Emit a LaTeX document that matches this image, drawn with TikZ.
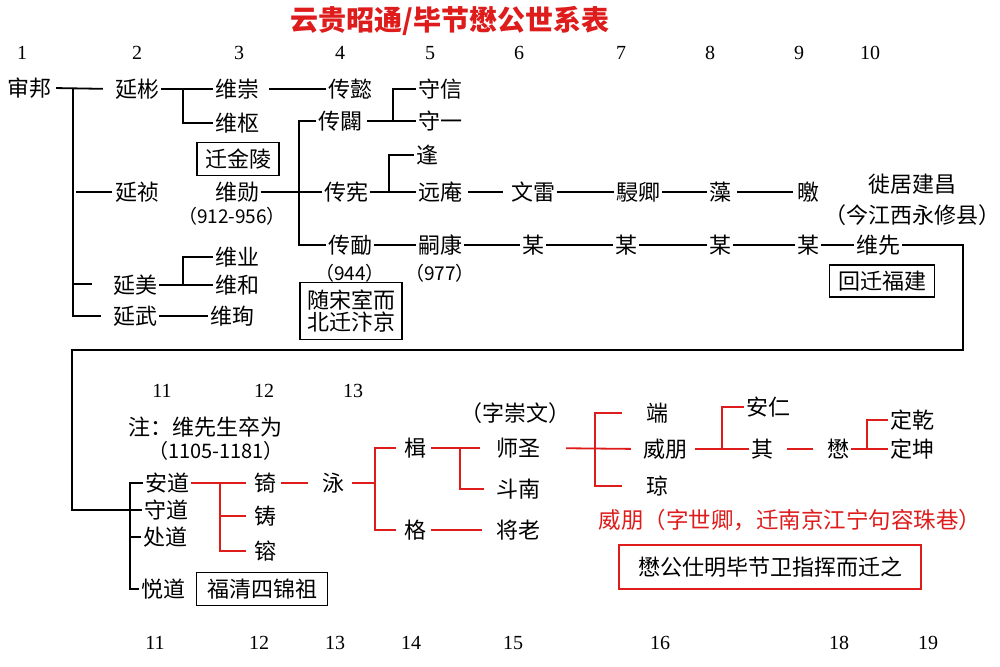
\documentclass[tikz,border=0pt]{standalone}
\usepackage{fontspec}
\newfontfamily\cjk{Noto Sans CJK SC}
\newfontfamily\numf{Liberation Serif}
\definecolor{redl}{RGB}{222,28,28}
\begin{document}
\begin{tikzpicture}[x=1pt,y=-1pt,
  nm/.style={font=\cjk\fontsize{22}{24}\selectfont, inner sep=2pt},
  yr/.style={font=\cjk\fontsize{19}{21}\selectfont, inner sep=1pt},
  num/.style={font=\numf\fontsize{20}{22}\selectfont, inner sep=0pt},
  boxb/.style={draw, line width=1.6pt, font=\cjk\fontsize{22}{25}\selectfont, inner sep=3pt, align=center},
  ln/.style={line width=1.8pt},
  rl/.style={line width=1.8pt, draw=redl}]
\fill[white] (0,0) rectangle (1000,666);
\useasboundingbox (0,0) rectangle (1000,666);

% title
\node[font=\cjk\bfseries\fontsize{28}{30}\selectfont, text=redl, inner sep=0pt] (title) at (450,21) {云贵昭通/毕节懋公世系表};

% generation numbers (top)
\foreach \n/\x in {1/22,2/137,3/239,4/340,5/430,6/519,7/621,8/710,9/799,10/870}
  \node[num] (gt\n) at (\x,53) {\n};

% ---------- top section ----------
\node[nm] (shenbang) at (29,88) {审邦};
\node[nm] (yanbin) at (137,89) {延彬};
\node[nm] (weichong) at (237,89) {维崇};
\node[nm] (weishu) at (237,123) {维枢};
\node[boxb, minimum width=82pt, minimum height=33pt] (jinling) at (238,159) {迁金陵};
\node[nm] (chuanyi) at (350,89) {传懿};
\node[nm] (chuanpi) at (340,121) {传闢};
\node[nm] (shouxin) at (440,89) {守信};
\node[nm] (shouyi) at (440,121) {守一};
\node[nm] (feng) at (427,155) {逢};
\node[nm] (yanzhen) at (137,192) {延祯};
\node[nm] (weixun) at (237,192) {维勋};
\node[yr] (yweixun) at (232,216) {（912-956）};
\node[nm] (chuanxian) at (346,192) {传宪};
\node[nm] (yuanan) at (440,192) {远庵};
\node[nm] (wenlei) at (533,192) {文雷};
\node[nm] (qinqing) at (638,192) {駸卿};
\node[nm] (zao) at (720,192) {藻};
\node[nm] (jiao) at (808,192) {曒};
\node[nm] (xiju) at (912,184) {徙居建昌};
\node[nm] (jinjx) at (912,215) {（今江西永修县）};
\node[nm] (chuanmian) at (350,245) {传勔};
\node[yr] (y944) at (350,273) {（944）};
\node[boxb, minimum width=102pt, minimum height=57pt] (suisong) at (351,311) {随宋室而\\[-3pt]北迁汴京};
\node[nm] (sikang) at (440,245) {嗣康};
\node[yr] (y977) at (440,273) {（977）};
\node[nm] (mou1) at (533,245) {某};
\node[nm] (mou2) at (626,245) {某};
\node[nm] (mou3) at (720,245) {某};
\node[nm] (mou4) at (808,245) {某};
\node[nm] (weixian) at (878,245) {维先};
\node[boxb, minimum width=105pt, minimum height=32pt] (huiqian) at (882,281) {回迁福建};
\node[nm] (yanmei) at (135,285) {延美};
\node[nm] (weiye) at (237,257) {维业};
\node[nm] (weihe) at (237,285) {维和};
\node[nm] (yanwu) at (135,316) {延武};
\node[nm] (weixun2) at (232,316) {维珣};

% junction coordinates
\coordinate (tr) at (73,0);
\coordinate (b1) at (183,0);
\coordinate (b2) at (299,0);
\coordinate (b3) at (393,0);
\coordinate (b4) at (389,0);
\coordinate (b5) at (183,0);
\coordinate (stub) at (92,284);
\coordinate (turnA) at (963,245);
\coordinate (turnB) at (963,350);
\coordinate (turnC) at (72,350);

% top connectors
\draw[ln, shorten <=3pt, shorten >=10pt] (shenbang.east) -- (yanbin.west);
\draw[ln, shorten >=10pt] (tr |- shenbang) |- (yanwu.west);
\draw[ln, shorten <=3pt, shorten >=1pt] (tr |- yanzhen) -- (yanzhen.west);
\draw[ln] (tr |- stub) -- (stub);
\draw[ln] (yanbin.east) -- (weichong.west);
\draw[ln] (b1 |- weichong) -- (b1 |- weishu) -- (weishu.west);
\draw[ln, shorten <=8pt] (weichong.east) -- (chuanyi.west);
\draw[ln] (chuanpi.west) -- (b2 |- chuanpi) -- (b2 |- chuanmian) -- (chuanmian.west);
\draw[ln] (weixun.east) -- (chuanxian.west);
\draw[ln, shorten <=3pt] (chuanpi.east) -- (shouyi.west);
\draw[ln] (shouxin.west) -- (b3 |- shouxin) -- (b3 |- shouyi);
\draw[ln] (chuanxian.east) -- (yuanan.west);
\draw[ln] (feng.west) -- (b4 |- feng) -- (b4 |- yuanan);
\draw[ln, shorten <=4pt, shorten >=6pt] (yuanan.east) -- (wenlei.west);
\draw[ln] (wenlei.east) -- (qinqing.west);
\draw[ln] (qinqing.east) -- (zao.west);
\draw[ln, shorten <=4pt, shorten >=2pt] (zao.east) -- (jiao.west);
\draw[ln] (chuanmian.east) -- (sikang.west);
\draw[ln] (sikang.east) -- (mou1.west);
\draw[ln] (mou1.east) -- (mou2.west);
\draw[ln] (mou2.east) -- (mou3.west);
\draw[ln] (mou3.east) -- (mou4.west);
\draw[ln] (mou4.east) -- (weixian.west);
\draw[ln] (yanmei.east) -- (weihe.west);
\draw[ln] (weiye.west) -- (b5 |- weiye) -- (b5 |- weihe);
\draw[ln] (yanwu.east) -- (weixun2.west);

% ---------- bottom section ----------
\foreach \n/\x in {11/162,12/264,13/353}
  \node[num] (gm\n) at (\x,391) {\n};
\node[nm] (zhu) at (205,427) {注：维先生卒为};
\node[yr, font=\cjk\fontsize{20}{22}\selectfont] (y1105) at (216,451) {（1105-1181）};
\node[nm] (andao) at (167,483) {安道};
\node[nm] (shoudao) at (166,510) {守道};
\node[nm] (chudao) at (165,537) {处道};
\node[nm] (yuedao) at (163,589) {悦道};
\node[boxb, minimum width=131pt, minimum height=33pt] (fuqing) at (262,589) {福清四锦祖};
\node[nm] (qi1) at (265,483) {锜};
\node[nm] (zhu2) at (265,516) {铸};
\node[nm] (rong) at (265,551) {镕};
\node[nm] (yong) at (333,483) {泳};
\node[nm] (ji) at (415,448) {楫};
\node[nm] (ge) at (415,530) {格};
\node[nm] (zichong) at (515,413) {（字崇文）};
\node[nm] (shisheng) at (518,448) {师圣};
\node[nm] (dounan) at (518,489) {斗南};
\node[nm] (jianglao) at (518,530) {将老};
\node[nm] (duan) at (657,413) {端};
\node[nm] (weipeng) at (665,449) {威朋};
\node[nm] (qiong) at (657,486) {琼};
\node[nm] (anren) at (768,407) {安仁};
\node[nm] (qi) at (762,449) {其};
\node[nm] (mao) at (838,449) {懋};
\node[nm] (dingqian) at (912,420) {定乾};
\node[nm] (dingkun) at (912,449) {定坤};
\node[nm, text=redl, font=\cjk\fontsize{22.5}{24}\selectfont] (wpnote) at (790,520) {威朋（字世卿，迁南京江宁句容珠巷）};
\node[draw=redl, line width=1.6pt, font=\cjk\fontsize{22}{24}\selectfont, minimum width=302pt, minimum height=44pt, inner sep=2pt] (maogong) at (770,567) {懋公仕明毕节卫指挥而迁之};

\foreach \n/\x in {11/155,12/259,13/335,14/411,15/513,16/660,18/839,19/928}
  \node[num] (gb\n) at (\x,643) {\n};

% bottom black connectors
\coordinate (br) at (130,0);
\draw[ln] (weixian.east) -- (turnA) -- (turnB) -- (turnC) |- (shoudao.west);
\draw[ln] (andao.west) -- (br |- andao) -- (br |- yuedao) -- (yuedao.west);
\draw[ln] (br |- chudao) -- (chudao.west);

% red connectors
\coordinate (r1) at (220,0);
\coordinate (r2) at (375,0);
\coordinate (r3) at (460,0);
\coordinate (r4) at (595,0);
\coordinate (r5) at (722,0);
\coordinate (r6) at (867,0);
\draw[rl, shorten >=6pt] (andao.east) -- (qi1.west);
\draw[rl] (r1 |- qi1) -- (r1 |- rong) -- ([xshift=-6pt]rong.west);
\draw[rl, shorten >=6pt] (r1 |- zhu2) -- (zhu2.west);
\draw[rl, shorten <=3pt, shorten >=12pt] (qi1.east) -- (yong.west);
\draw[rl, shorten <=6pt] (yong.east) -- (r2 |- yong);
\draw[rl] ([xshift=-6pt]ji.west) -- (r2 |- ji) -- (r2 |- ge) -- ([xshift=-6pt]ge.west);
\draw[rl, shorten <=3pt, shorten >=14pt] (ji.east) -- (shisheng.west);
\draw[rl] (r3 |- ji) -- (r3 |- dounan) -- ([xshift=-10pt]dounan.west);
\draw[rl, shorten <=3pt, shorten >=12pt] (ge.east) -- (jianglao.west);
\draw[rl, shorten <=24pt, shorten >=10pt] (shisheng.east) -- (weipeng.west);
\draw[rl] ([xshift=-22pt]duan.west) -- (r4 |- duan) -- (r4 |- qiong) -- ([xshift=-22pt]qiong.west);
\draw[rl, shorten <=6pt] (weipeng.east) -- (qi.west);
\draw[rl] (r5 |- qi) -- (r5 |- anren) -- (anren.west);
\draw[rl, shorten <=12pt, shorten >=12pt] (qi.east) -- (mao.west);
\draw[rl] (mao.east) -- (dingkun.west);
\draw[rl] (r6 |- dingkun) -- (r6 |- dingqian) -- (dingqian.west);
\end{tikzpicture}
\end{document}
